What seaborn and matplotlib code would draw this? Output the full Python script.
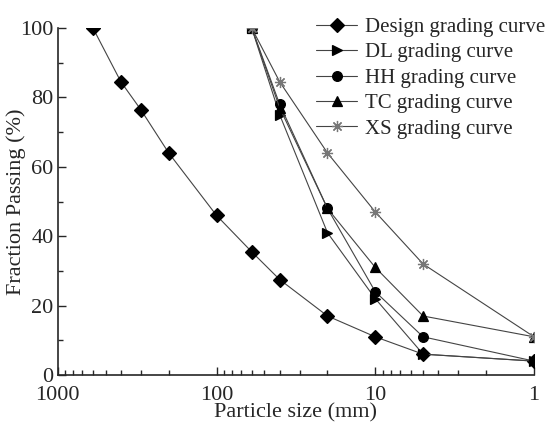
import numpy as np
import pandas as pd
import matplotlib
matplotlib.use("Agg")
import matplotlib.pyplot as plt
import seaborn as sns

# sieve sizes (mm) and percent passing
design_size = [600, 400, 300, 200, 100, 60, 40, 20, 10, 5, 1]
design_pass = [100, 84.5, 76.5, 64, 46, 35.5, 27.5, 17, 11, 6, 4]

field_size = [60, 40, 20, 10, 5, 1]
dl_pass = [100, 75, 41, 22, 6, 4]
hh_pass = [100, 78, 48, 24, 11, 4]
tc_pass = [100, 77, 48, 31, 17, 11]
xs_pass = [100, 84.5, 64, 47, 32, 11]

x_ticks = [1000, 100, 10, 1]
y_ticks = [0, 20, 40, 60, 80, 100]

sns.set_style("ticks")
plt.rcParams['font.family'] = ['Liberation Serif', 'DejaVu Serif']

fig = plt.figure(figsize=(5.5, 4.32), dpi=100)
ax = fig.add_axes([0.105, 0.132, 0.866, 0.803])

series = [
    ("Design grading curve", design_size, design_pass, "D", "black", 7),
    ("DL grading curve", field_size, dl_pass, ">", "black", 7),
    ("HH grading curve", field_size, hh_pass, "o", "black", 7),
    ("TC grading curve", field_size, tc_pass, "^", "black", 7),
    ("XS grading curve", field_size, xs_pass, (8, 2, 0), "#777777", 8),
]

for name, xs, ys, mk, mc, ms in series:
    df = pd.DataFrame({"size": xs, "passing": ys})
    sns.lineplot(data=df, x="size", y="passing", ax=ax, label=name,
                 color="#444444", linewidth=0.8, marker=mk, markersize=ms,
                 markerfacecolor=mc, markeredgecolor=mc, markeredgewidth=0.9,
                 sort=False, estimator=None, legend=False)

ax.set_xscale("log")
ax.set_xlim(1000, 1)
ax.set_ylim(0, 100)
ax.set_xticks(x_ticks)
ax.set_xticklabels([str(t) for t in x_ticks])
ax.set_yticks(y_ticks)
ax.yaxis.set_minor_locator(matplotlib.ticker.MultipleLocator(10))
ax.xaxis.set_minor_locator(matplotlib.ticker.LogLocator(base=10, subs=np.arange(2, 10)))
ax.xaxis.set_minor_formatter(matplotlib.ticker.NullFormatter())

ax.tick_params(which="both", direction="in", labelsize=16, width=1)
ax.tick_params(which="major", length=6)
ax.tick_params(which="minor", length=3.5)
ax.tick_params(axis="x", pad=8)
ax.tick_params(axis="y", pad=3)
for s in ["top", "right"]:
    ax.spines[s].set_visible(False)
for s in ["left", "bottom"]:
    ax.spines[s].set_linewidth(1.2)

ax.set_xlabel("Particle size (mm)", fontsize=16, labelpad=-1)
ax.set_ylabel("Fraction Passing (%)", fontsize=16)
ax.yaxis.set_label_coords(-0.066, 0.5)

handles = ax.get_lines()
fig.legend(handles, [s[0] for s in series], loc="upper left",
           bbox_to_anchor=(0.540, 1.003), frameon=False,
           fontsize=15, handlelength=2.0, handletextpad=0.35, labelspacing=0.28)

fig.savefig("out.png", dpi=100)
